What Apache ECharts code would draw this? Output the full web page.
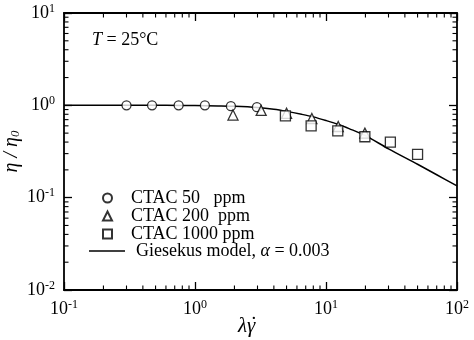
<!DOCTYPE html>
<html>
<head>
<meta charset="utf-8">
<script src="https://cdn.jsdelivr.net/npm/echarts@6/dist/echarts.min.js"></script>
<style>
  html, body { margin: 0; padding: 0; background: #fff; }
  #chart { width: 474px; height: 340px; }
</style>
</head>
<body>
<div id="chart"></div>
<script>
// Reduced viscosity eta/eta0 versus dimensionless shear rate (lambda * gamma-dot)
const ctac50 = [[0.30, 1.00], [0.47, 1.00], [0.75, 1.00], [1.19, 1.00], [1.88, 0.98], [2.97, 0.955]];
const ctac200 = [[1.95, 0.785], [3.2, 0.88], [5.0, 0.82], [7.8, 0.72], [12.4, 0.59], [19.8, 0.50]];
const ctac1000 = [[4.9, 0.77], [7.7, 0.60], [12.3, 0.53], [19.8, 0.457], [31, 0.40], [50, 0.295]];
const giesekus = [[0.1, 1.0], [0.3, 1.0], [0.6, 1.0], [1.0, 0.995], [1.5, 0.985], [2.0, 0.975],
  [3.0, 0.945], [4.0, 0.905], [5.0, 0.86], [6.5, 0.80], [8.0, 0.75], [10, 0.685], [12.5, 0.62],
  [15, 0.56], [20, 0.47], [30, 0.338], [50, 0.23], [70, 0.177], [100, 0.134]];

const seriesNames = ['CTAC 50   ppm', 'CTAC 200  ppm', 'CTAC 1000 ppm', 'Giesekus model, α = 0.003'];
const xExtent = [0.1, 100];
const yExtent = [0.01, 10];
// exponent shown on each decade label
const xTickExp = { 0.1: '-1', 1: '0', 10: '1', 100: '2' };
const yTickExp = { 0.01: '-2', 0.1: '-1', 1: '0', 10: '1' };

// minor tick positions 2..9 within each decade
function minorTicks(lo, hi) {
  const out = [];
  for (let d = lo; d < hi; d *= 10) {
    for (let k = 2; k <= 9; k++) out.push(+(k * d).toPrecision(3));
  }
  return out;
}
const xMinor = minorTicks(xExtent[0], xExtent[1]);
const yMinor = minorTicks(yExtent[0], yExtent[1]);

const FONT = 'Liberation Serif';
const INK = '#000';

const powRich = {
  b: { fontFamily: FONT, fontSize: 18, color: INK },
  s: { fontFamily: FONT, fontSize: 12, color: INK, verticalAlign: 'top', padding: [0, 0, 9, 0] }
};

function decadeLabel(map) {
  return function (v) {
    const key = +(+v).toPrecision(3);
    const e = map[key];
    return e === undefined ? '' : '{b|10}{s|' + e + '}';
  };
}

function logAxis(extent, pos, labelMap, extra) {
  return Object.assign({
    type: 'log',
    logBase: 10,
    min: extent[0],
    max: extent[1],
    position: pos,
    axisLine: { show: true, onZero: false, lineStyle: { color: INK, width: 1.8 } },
    axisTick: { show: true, inside: true, length: 8, lineStyle: { color: INK, width: 1.3 } },
    splitLine: { show: false },
    minorTick: { show: false },
    axisLabel: labelMap ? {
      show: true,
      margin: 9,
      formatter: decadeLabel(labelMap),
      rich: powRich
    } : { show: false }
  }, extra || {});
}

const symStyle = { color: '#fff', borderColor: INK, borderWidth: 1.3 };

const option = {
  animation: false,
  backgroundColor: '#fff',
  textStyle: { fontFamily: FONT },
  grid: { left: 64, right: 17, top: 13, bottom: 50, containLabel: false, outerBoundsMode: 'none' },
  xAxis: [
    logAxis(xExtent, 'bottom', xTickExp),
    logAxis(xExtent, 'top', null)
  ],
  yAxis: [
    logAxis(yExtent, 'left', yTickExp, {
      name: '{i|η / η}{sub|0}',
      nameLocation: 'middle',
      nameRotate: 90,
      nameGap: 42,
      nameMoveOverlap: false,
      nameTextStyle: {
        rich: {
          i: { fontFamily: FONT, fontSize: 20, fontStyle: 'italic', color: INK },
          sub: { fontFamily: FONT, fontSize: 13, fontStyle: 'italic', color: INK, verticalAlign: 'bottom', padding: [6, 0, 0, 0] }
        }
      }
    }),
    logAxis(yExtent, 'right', null)
  ],
  legend: [
    {
      data: seriesNames.slice(0, 3),
      orient: 'vertical',
      left: 102,
      top: 189,
      padding: 0,
      itemWidth: 9,
      itemHeight: 9,
      itemGap: 0,
      selectedMode: false,
      textStyle: { fontFamily: FONT, fontSize: 18, color: INK, lineHeight: 17.6, padding: [0, 0, 0, 14] }
    },
    {
      data: [{ name: seriesNames[3], icon: 'path://M0,0 L36,0 L36,1.5 L0,1.5 Z' }],
      left: 89,
      top: 242,
      padding: 0,
      itemWidth: 36,
      itemHeight: 1.5,
      selectedMode: false,
      formatter: function () { return '{n|Giesekus model, }{i|α}{n| = 0.003}'; },
      textStyle: {
        fontFamily: FONT, fontSize: 18, color: INK, padding: [0, 0, 0, 6],
        rich: {
          n: { fontFamily: FONT, fontSize: 18, color: INK },
          i: { fontFamily: FONT, fontSize: 18, fontStyle: 'italic', color: INK }
        }
      }
    }
  ],
  graphic: [
    {
      type: 'text',
      left: 92,
      top: 31,
      style: {
        text: '{i|T}{n| = 25°C}',
        rich: {
          i: { fontFamily: FONT, fontSize: 18, fontStyle: 'italic', fill: INK },
          n: { fontFamily: FONT, fontSize: 18, fill: INK }
        }
      }
    },
    {
      // x-axis title: lambda times gamma with an overdot
      type: 'group',
      left: 238,
      top: 315,
      children: [
        {
          type: 'text',
          x: 0, y: 0,
          style: { text: 'λγ', fontFamily: FONT, fontSize: 21, fontStyle: 'italic', fill: INK }
        },
        {
          type: 'text',
          x: 11, y: -1,
          style: { text: '˙', fontFamily: FONT, fontSize: 21, fontStyle: 'italic', fill: INK }
        }
      ]
    }
  ],
  series: [
    {
      name: seriesNames[3],
      type: 'line',
      data: giesekus,
      symbol: 'none',
      smooth: 0.3,
      z: 2,
      lineStyle: { color: INK, width: 1.5 },
      itemStyle: { color: INK }
    },
    {
      name: seriesNames[0],
      type: 'scatter',
      data: ctac50,
      symbol: 'circle',
      symbolSize: 9,
      z: 3,
      itemStyle: symStyle
    },
    {
      name: seriesNames[1],
      type: 'scatter',
      data: ctac200,
      symbol: 'triangle',
      symbolSize: 10,
      z: 3,
      itemStyle: symStyle
    },
    {
      name: seriesNames[2],
      type: 'scatter',
      data: ctac1000,
      symbol: 'rect',
      symbolSize: 10,
      z: 3,
      itemStyle: symStyle
    },
    {
      // logarithmic minor ticks along bottom and top frame edges
      type: 'custom',
      silent: true,
      clip: false,
      z: 5,
      data: xMinor.map(v => [v, yExtent[0]]),
      renderItem: function (params, api) {
        const v = api.value(0);
        const b = api.coord([v, yExtent[0]]);
        const t = api.coord([v, yExtent[1]]);
        const st = { stroke: INK, lineWidth: 1.1 };
        return {
          type: 'group',
          children: [
            { type: 'line', shape: { x1: b[0], y1: b[1], x2: b[0], y2: b[1] - 4.5 }, style: st },
            { type: 'line', shape: { x1: t[0], y1: t[1], x2: t[0], y2: t[1] + 4.5 }, style: st }
          ]
        };
      }
    },
    {
      // logarithmic minor ticks along left and right frame edges
      type: 'custom',
      silent: true,
      clip: false,
      z: 5,
      data: yMinor.map(v => [xExtent[0], v]),
      renderItem: function (params, api) {
        const v = api.value(1);
        const l = api.coord([xExtent[0], v]);
        const r = api.coord([xExtent[1], v]);
        const st = { stroke: INK, lineWidth: 1.1 };
        return {
          type: 'group',
          children: [
            { type: 'line', shape: { x1: l[0], y1: l[1], x2: l[0] + 4.5, y2: l[1] }, style: st },
            { type: 'line', shape: { x1: r[0], y1: r[1], x2: r[0] - 4.5, y2: r[1] }, style: st }
          ]
        };
      }
    }
  ]
};

const chart = echarts.init(document.getElementById('chart'), null, { renderer: 'canvas' });
chart.setOption(option);
</script>
</body>
</html>
